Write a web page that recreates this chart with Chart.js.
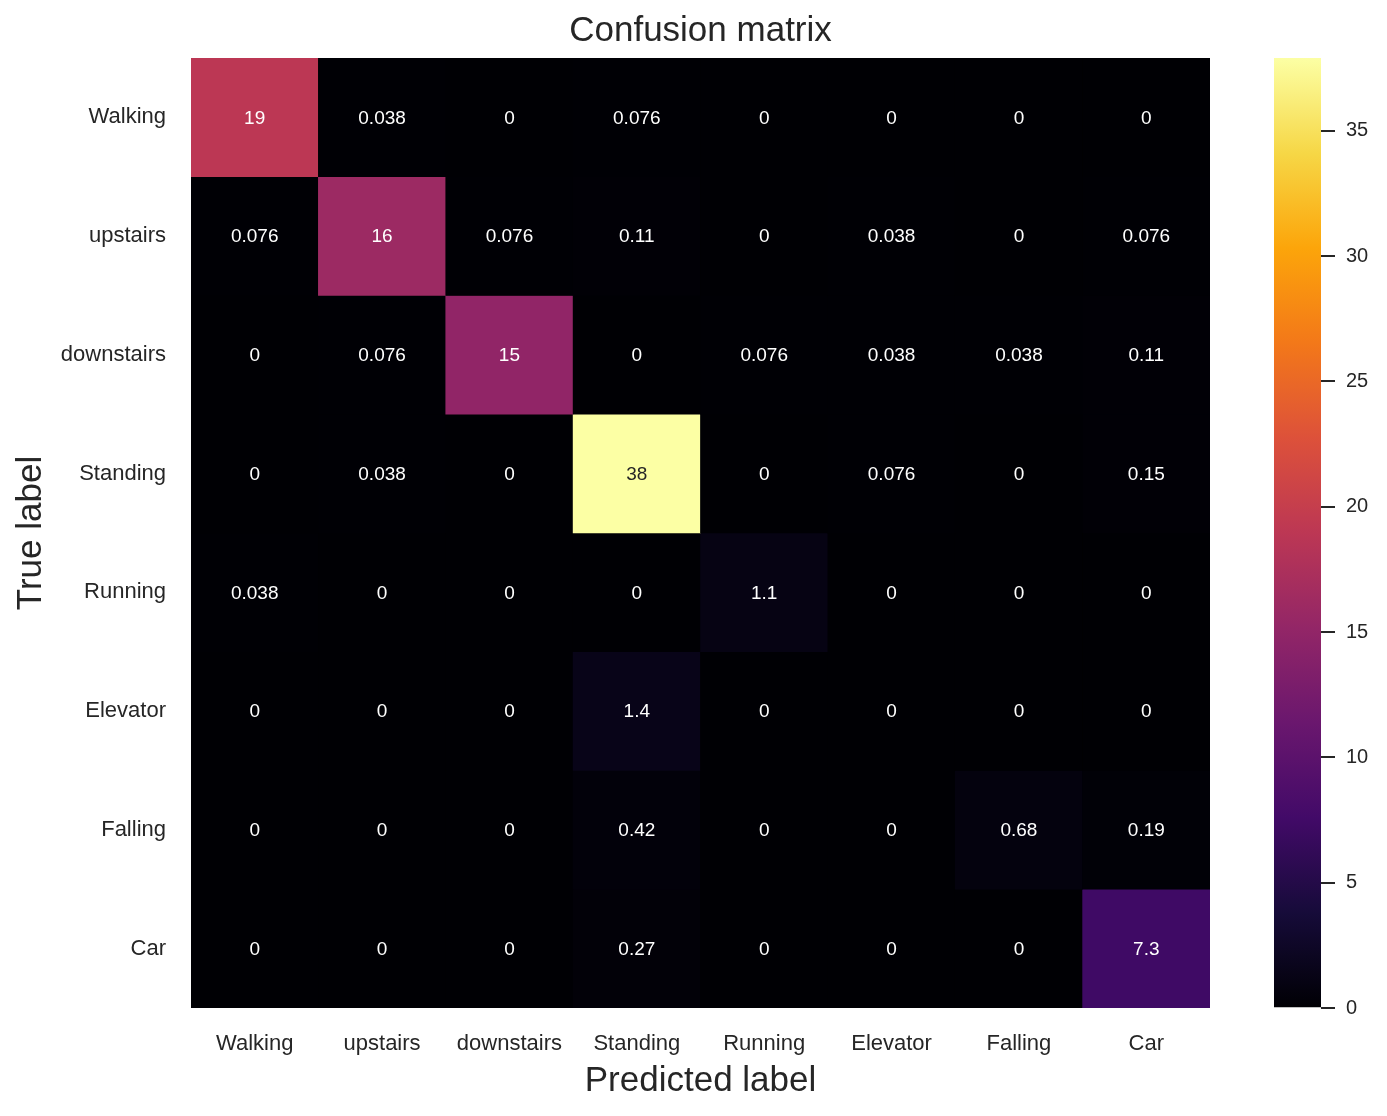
<!DOCTYPE html>
<html>
<head>
<meta charset="utf-8">
<title>Confusion matrix</title>
<script src="https://cdn.jsdelivr.net/npm/chart.js@4/dist/chart.umd.min.js"></script>
<style>
    html, body { margin: 0; padding: 0; background: #fff; }
    #wrap { position: relative; width: 1387px; height: 1116px; }
    #matrix { position: absolute; left: 0; top: 0; }
    #colorbar { position: absolute; left: 1230px; top: 0; }
</style>
</head>
<body>
<div id="wrap">
    <canvas id="matrix" width="1387" height="1116"></canvas>
    <canvas id="colorbar" width="157" height="1116"></canvas>
</div>
<script>
// labels
const trueLabels = ['Walking', 'upstairs', 'downstairs', 'Standing', 'Running', 'Elevator', 'Falling', 'Car'];
const predLabels = ['Walking', 'upstairs', 'downstairs', 'Standing', 'Running', 'Elevator', 'Falling', 'Car'];

// one row per true label
const walkingRow    = [19, 0.038, 0, 0.076, 0, 0, 0, 0];
const upstairsRow   = [0.076, 16, 0.076, 0.11, 0, 0.038, 0, 0.076];
const downstairsRow = [0, 0.076, 15, 0, 0.076, 0.038, 0.038, 0.11];
const standingRow   = [0, 0.038, 0, 37.9, 0, 0.076, 0, 0.15];
const runningRow    = [0.038, 0, 0, 0, 1.1, 0, 0, 0];
const elevatorRow   = [0, 0, 0, 1.4, 0, 0, 0, 0];
const fallingRow    = [0, 0, 0, 0.42, 0, 0, 0.68, 0.19];
const carRow        = [0, 0, 0, 0.27, 0, 0, 0, 7.3];
const rows = [walkingRow, upstairsRow, downstairsRow, standingRow, runningRow, elevatorRow, fallingRow, carRow];

const vmin = 0;
const vmax = 37.9;
const colorbarTicks = [0, 5, 10, 15, 20, 25, 30, 35];

// inferno, 11 stops
const inferno = [
    [0, 0, 4], [22, 11, 57], [66, 10, 104], [106, 23, 110], [147, 38, 103],
    [188, 55, 84], [221, 81, 58], [243, 120, 25], [252, 165, 10], [246, 215, 70], [252, 255, 164]
];

const FONT = '"Liberation Sans", Arial, Helvetica, sans-serif';
const TEXT = '#262626';

function infernoRgb(t) {
    t = Math.max(0, Math.min(1, t));
    const pos = t * (inferno.length - 1);
    const i = Math.min(Math.floor(pos), inferno.length - 2);
    const f = pos - i;
    const a = inferno[i], b = inferno[i + 1];
    return [0, 1, 2].map(k => Math.round(a[k] + (b[k] - a[k]) * f));
}

function cellColor(v) {
    const c = infernoRgb((v - vmin) / (vmax - vmin));
    return `rgb(${c[0]}, ${c[1]}, ${c[2]})`;
}

function luminance(v) {
    const c = infernoRgb((v - vmin) / (vmax - vmin)).map(x => {
        x = x / 255;
        return x <= 0.03928 ? x / 12.92 : Math.pow((x + 0.055) / 1.055, 2.4);
    });
    return 0.2126 * c[0] + 0.7152 * c[1] + 0.0722 * c[2];
}

function fmt(v) {
    if (v === 0) return '0';
    return String(Number(v.toPrecision(2)));
}

// fill chart area black so no seams show between cells
const backdrop = {
    id: 'backdrop',
    beforeDatasetsDraw(chart) {
        const { ctx, chartArea: a } = chart;
        ctx.save();
        ctx.fillStyle = cellColor(0);
        ctx.fillRect(a.left, a.top, a.right - a.left, a.bottom - a.top);
        ctx.restore();
    }
};

// values written in each cell
const annotate = {
    id: 'annotate',
    afterDatasetsDraw(chart) {
        const ctx = chart.ctx;
        ctx.save();
        ctx.font = '19px ' + FONT;
        ctx.textAlign = 'center';
        ctx.textBaseline = 'middle';
        chart.data.datasets.forEach((ds, i) => {
            const meta = chart.getDatasetMeta(i);
            meta.data.forEach((el, j) => {
                const v = rows[i][j];
                const p = el.getProps(['x', 'y', 'base'], true);
                ctx.fillStyle = luminance(v) > 0.408 ? TEXT : '#ffffff';
                ctx.fillText(fmt(v), p.x, (p.y + p.base) / 2 + 1);
            });
        });
        ctx.restore();
    }
};

const datasets = rows.map((row, i) => ({
    label: trueLabels[i],
    data: row.map(() => [i, i + 1]),
    backgroundColor: row.map(v => cellColor(v)),
    borderWidth: 0,
    barPercentage: 1,
    categoryPercentage: 1,
    grouped: false
}));

new Chart(document.getElementById('matrix'), {
    type: 'bar',
    data: { labels: predLabels, datasets: datasets },
    options: {
        responsive: false,
        animation: false,
        layout: { padding: { left: 0, right: 177, top: 0, bottom: 0 } },
        plugins: {
            legend: { display: false },
            tooltip: { enabled: false },
            title: {
                display: true,
                fullSize: false,
                text: 'Confusion matrix',
                color: TEXT,
                font: { family: FONT, size: 35, weight: 'normal' },
                padding: { top: 10, bottom: 6 }
            }
        },
        scales: {
            x: {
                type: 'category',
                offset: true,
                grid: { display: false },
                border: { display: false },
                ticks: { color: TEXT, font: { family: FONT, size: 22 }, padding: 15, maxRotation: 0 },
                title: {
                    display: true,
                    text: 'Predicted label',
                    color: TEXT,
                    font: { family: FONT, size: 35 },
                    padding: { top: 0, bottom: 14 }
                },
                afterFit(scale) { scale.height = 108; }
            },
            y: {
                type: 'linear',
                min: 0,
                max: trueLabels.length,
                reverse: true,
                grid: { display: false },
                border: { display: false },
                afterBuildTicks(scale) {
                    scale.ticks = trueLabels.map((l, i) => ({ value: i + 0.5 }));
                },
                ticks: {
                    color: TEXT,
                    font: { family: FONT, size: 22 },
                    padding: 17,
                    callback: (v, i) => trueLabels[i]
                },
                title: {
                    display: true,
                    text: 'True label',
                    color: TEXT,
                    font: { family: FONT, size: 35 },
                    padding: { top: 10, bottom: 0 }
                },
                afterFit(scale) { scale.width = 191; }
            }
        }
    },
    plugins: [backdrop, annotate]
});

// colorbar
new Chart(document.getElementById('colorbar'), {
    type: 'bar',
    data: {
        labels: [''],
        datasets: [{
            data: [[vmin, vmax]],
            backgroundColor(ctx) {
                const a = ctx.chart.chartArea;
                if (!a) return cellColor(0);
                const g = ctx.chart.ctx.createLinearGradient(0, a.bottom, 0, a.top);
                inferno.forEach((c, i) => g.addColorStop(i / (inferno.length - 1), `rgb(${c[0]}, ${c[1]}, ${c[2]})`));
                return g;
            },
            borderWidth: 0,
            barPercentage: 1,
            categoryPercentage: 1
        }]
    },
    options: {
        responsive: false,
        animation: false,
        layout: { padding: { left: 44, right: 0, top: 58, bottom: 108 } },
        plugins: { legend: { display: false }, tooltip: { enabled: false } },
        scales: {
            x: { display: false },
            y: {
                position: 'right',
                min: vmin,
                max: vmax,
                border: { display: false },
                grid: { display: true, drawOnChartArea: false, drawTicks: true, tickLength: 14, color: TEXT, lineWidth: 2 },
                afterBuildTicks(scale) {
                    scale.ticks = colorbarTicks.map(v => ({ value: v }));
                },
                ticks: { color: TEXT, font: { family: FONT, size: 20 }, padding: 11 },
                afterFit(scale) { scale.width = 66; }
            }
        }
    }
});
</script>
</body>
</html>
